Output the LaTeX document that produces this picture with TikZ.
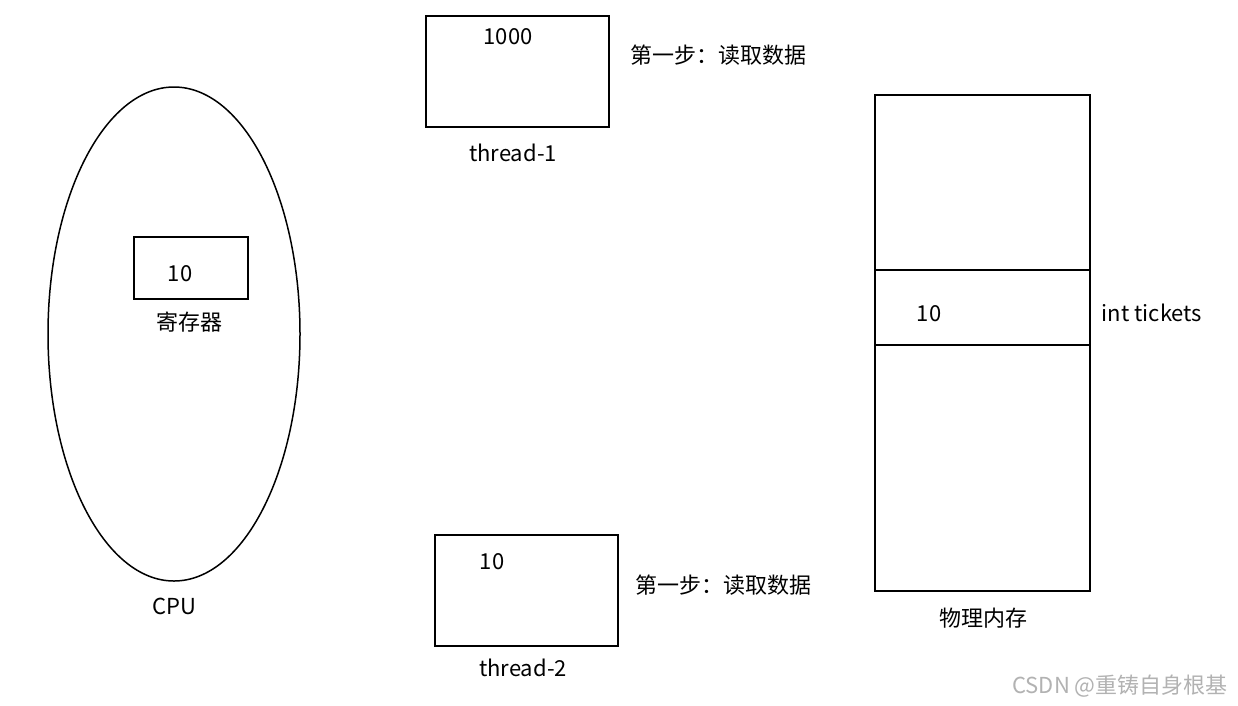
\documentclass[tikz,border=0pt]{standalone}
\usepackage{fontspec}
\setmainfont{Noto Sans CJK SC}
\begin{document}
\begin{tikzpicture}[x=1pt,y=-1pt,
  box/.style={draw,line width=1.8pt},
  lbl/.style={font=\fontsize{22}{26}\selectfont,inner sep=0pt}]
\useasboundingbox[fill=white] (0,0) rectangle (1238,705);
\draw[line width=1.5pt] (174,334) ellipse [x radius=126, y radius=247];
\node[box,minimum width=114pt,minimum height=62pt,inner sep=0pt] (reg) at (191,268) {};
\node[lbl] (regv) at (180,274) {10};
\node[lbl] (regl) at (189,322) {寄存器};
\node[lbl] (cpu) at (174,606) {CPU};
\node[box,minimum width=183pt,minimum height=111pt,inner sep=0pt] (t1) at (517.5,71.5) {};
\node[lbl] (t1v) at (508,37) {1000};
\node[lbl] (t1l) at (513,153) {thread-1};
\node[lbl] (s1) at (718,55) {第一步：读取数据};
\node[box,minimum width=183pt,minimum height=111pt,inner sep=0pt] (t2) at (526.5,590.5) {};
\node[lbl] (t2v) at (492,562) {10};
\node[lbl] (t2l) at (523,668) {thread-2};
\node[lbl] (s2) at (723,585) {第一步：读取数据};
\node[box,minimum width=215pt,minimum height=496pt,inner sep=0pt] (mem) at (982.5,343) {};
\coordinate (a1) at (875,270); \coordinate (a2) at (1090,270);
\coordinate (b1) at (875,345); \coordinate (b2) at (1090,345);
\draw[line width=1.8pt] (a1) -- (a2) (b1) -- (b2);
\node[lbl] (mv) at (929,314) {10};
\node[lbl] (ml) at (1152,313) {int tickets};
\node[lbl] (memname) at (983,618) {物理内存};
\node[lbl,text=gray!60] (wm) at (1120,686) {CSDN @重铸自身根基};
\end{tikzpicture}
\end{document}
